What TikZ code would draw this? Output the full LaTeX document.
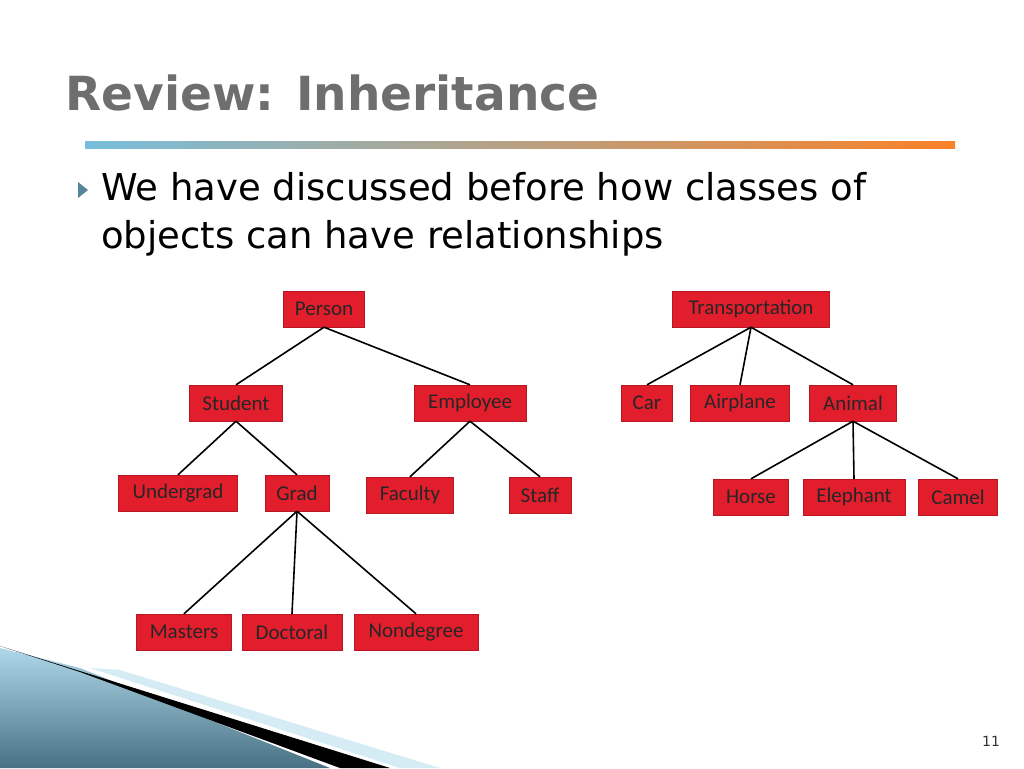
\documentclass[tikz,border=0pt]{standalone}
\usepackage{fontspec}
\setmainfont{DejaVu Sans}
\newfontfamily\boxfont{Carlito}
\usetikzlibrary{positioning}
\definecolor{boxred}{RGB}{226,30,45}
\definecolor{titlegray}{RGB}{110,110,110}
\definecolor{barblue}{RGB}{120,190,220}
\definecolor{barorange}{RGB}{250,130,40}
\begin{document}
\begin{tikzpicture}[x=1pt,y=-1pt, cls/.style = {shape=rectangle, fill=boxred, draw=boxred!80!black, inner sep=0pt, minimum height=36pt, font=\boxfont\fontsize{21}{24}\selectfont, text=black!85}, link/.style = {line width=1.6pt}]
    \useasboundingbox[fill=white] (0,0) rectangle (1024,768);
    % title and bullet
    \node[anchor=base west, text=titlegray, font=\bfseries\fontsize{47}{54}\selectfont] (title) at (62,110) {Review: Inheritance};
    \shade[left color=barblue, right color=barorange] (85,141) rectangle (955,148);
    \fill[barblue!70!black] (78,182) -- (88,190) -- (78,198) -- cycle;
    \node[anchor=north west, align=left, inner sep=0pt, font=\fontsize{37}{48}\selectfont] (text) at (101,172) {We have discussed before how classes of\\objects can have relationships};
    % left tree
    \node[cls, minimum width=81pt] (person) at (324,309) {Person};
    \node[cls, minimum width=93pt] (student) at (236,403) {Student};
    \node[cls, minimum width=112pt] (employee) at (470,403) {Employee};
    \node[cls, minimum width=119pt] (undergrad) at (178,493) {Undergrad};
    \node[cls, minimum width=64pt] (grad) at (297,493) {Grad};
    \node[cls, minimum width=87pt] (faculty) at (410,495) {Faculty};
    \node[cls, minimum width=62pt] (staff) at (540,495) {Staff};
    \node[cls, minimum width=95pt] (masters) at (184,632) {Masters};
    \node[cls, minimum width=100pt] (doctoral) at (292,632) {Doctoral};
    \node[cls, minimum width=124pt] (nondegree) at (416,632) {Nondegree};
    % right tree
    \node[cls, minimum width=157pt] (transport) at (751,309) {Transportation};
    \node[cls, minimum width=51pt] (car) at (647,403) {Car};
    \node[cls, minimum width=99pt] (airplane) at (740,403) {Airplane};
    \node[cls, minimum width=87pt] (animal) at (853,403) {Animal};
    \node[cls, minimum width=75pt] (horse) at (751,497) {Horse};
    \node[cls, minimum width=102pt] (elephant) at (854,497) {Elephant};
    \node[cls, minimum width=79pt] (camel) at (958,497) {Camel};
    % links
    \foreach \p/\c in {person/student, person/employee, student/undergrad, student/grad, employee/faculty, employee/staff, grad/masters, grad/doctoral, grad/nondegree, transport/car, transport/airplane, transport/animal, animal/horse, animal/elephant, animal/camel}
        \draw[link] (\p.south) -- (\c.north);
    % corner decoration and page number
    \shade[top color=barblue!60, bottom color=barblue!60!black] (0,648) -- (80,668) -- (330,768) -- (0,768) -- cycle;
    \fill[black] (0,646) -- (390,768) -- (340,768) -- (80,672) -- cycle;
    \fill[barblue!30] (90,668) -- (400,768) -- (440,768) -- (120,670) -- cycle;
    \node[font=\fontsize{14}{16}\selectfont, text=black!80] (page) at (991,741) {11};
\end{tikzpicture}
\end{document}
